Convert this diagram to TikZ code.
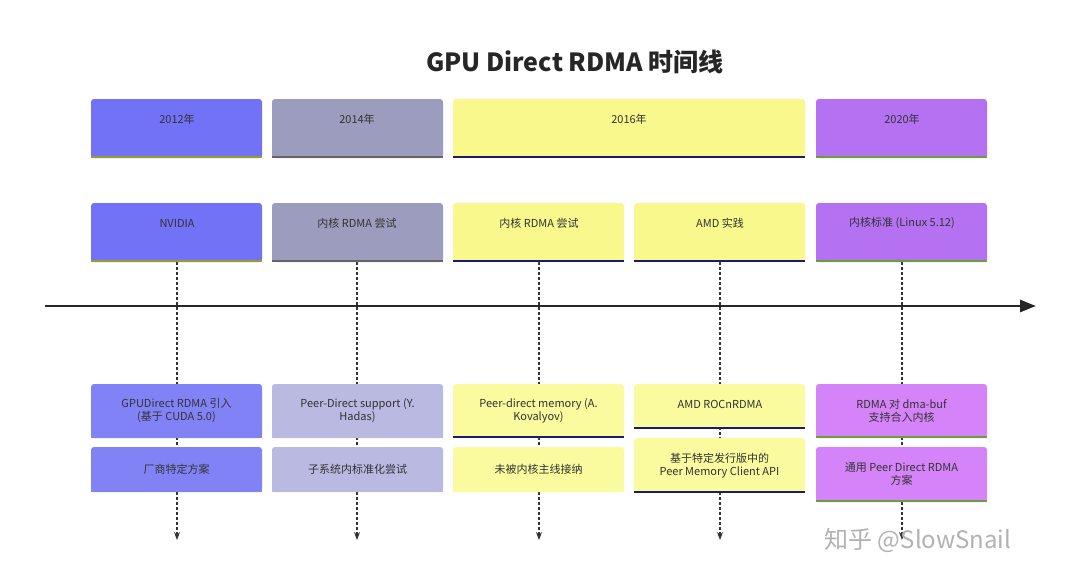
\documentclass[tikz,border=0pt]{standalone}
\usepackage{fontspec}
\setmainfont{Noto Sans CJK SC}
\usetikzlibrary{arrows.meta}
\definecolor{cA}{HTML}{7272F7}\definecolor{cAl}{HTML}{8282F7}\definecolor{bA}{HTML}{9A9A30}
\definecolor{cB}{HTML}{9C9CBE}\definecolor{cBl}{HTML}{B9B9E2}\definecolor{bB}{HTML}{666660}
\definecolor{cC}{HTML}{F8F88C}\definecolor{cCl}{HTML}{FAFA9E}\definecolor{bC}{HTML}{1A1A70}
\definecolor{cE}{HTML}{B472F2}\definecolor{cEl}{HTML}{D484F8}\definecolor{bE}{HTML}{6A9E3A}
\definecolor{tx}{HTML}{333333}
\tikzset{
 lbl/.style={text=tx,font=\fontsize{11}{13}\selectfont,align=center},
 tline/.style={densely dashed,line width=1.1pt,draw=tx,-{Stealth[length=8pt,width=6pt]}}
}
\newcommand{\bx}[7]{% name, x, y, w, h, fill, border
 \fill[#6,rounded corners=3pt] (#2,#3) rectangle ++(#4,#5);
 \draw[#7,line width=2.5pt] (#2,#3+#5-1.2) -- ++(#4,0);
 \coordinate (#1) at (#2+#4/2,#3+#5/2);}
\begin{document}
\begin{tikzpicture}[x=1pt,y=-1pt]
\useasboundingbox[fill=white] (0,0) rectangle (1080,584);
\node[font=\bfseries\fontsize{25}{28}\selectfont,text=black!85] (title) at (575,62) {GPU Direct RDMA 时间线};
% dashed connectors
\foreach \x/\n in {177/1,357/2,539/3,720/4,902/5}{
 \coordinate (s\n) at (\x,262); \coordinate (e\n) at (\x,540);
 \draw[tline] (s\n) -- (e\n);}
% axis
\coordinate (a0) at (45,306); \coordinate (a1) at (1036,306);
\draw[line width=2.5pt,draw=black!85,-{Triangle[length=16pt,width=12pt]}] (a0) -- (a1);
% year row
\bx{y1}{91}{99}{171}{59}{cA}{bA}
\bx{y2}{272}{99}{171}{59}{cB}{bB}
\bx{y3}{453}{99}{352}{59}{cC}{bC}
\bx{y5}{816}{99}{171}{59}{cE}{bE}
\node[lbl] (ty1) at (177,119) {2012年};
\node[lbl] (ty2) at (357,119) {2014年};
\node[lbl] (ty3) at (629,119) {2016年};
\node[lbl] (ty5) at (902,119) {2020年};
% org row
\bx{o1}{91}{203}{171}{59}{cA}{bA}
\bx{o2}{272}{203}{171}{59}{cB}{bB}
\bx{o3}{453}{203}{171}{59}{cC}{bC}
\bx{o4}{634}{203}{171}{59}{cC}{bC}
\bx{o5}{816}{203}{171}{59}{cE}{bE}
\node[lbl] (to1) at (177,223) {NVIDIA};
\node[lbl] (to2) at (357,223) {内核 RDMA 尝试};
\node[lbl] (to3) at (539,223) {内核 RDMA 尝试};
\node[lbl] (to4) at (720,223) {AMD 实践};
\node[lbl] (to5) at (902,223) {内核标准 (Linux 5.12)};
% detail rows
\bx{d1}{91}{384}{171}{54}{cAl}{cAl}
\bx{d2}{272}{384}{171}{54}{cBl}{cBl}
\bx{d3}{453}{384}{171}{54}{cCl}{bC}
\bx{d4}{634}{384}{171}{45}{cCl}{bC}
\bx{d5}{816}{384}{171}{54}{cEl}{bE}
\node[lbl] (td1) at (d1) {GPUDirect RDMA 引入\\(基于 CUDA 5.0)};
\node[lbl] (td2) at (d2) {Peer-Direct support (Y.\\Hadas)};
\node[lbl] (td3) at (d3) {Peer-direct memory (A.\\Kovalyov)};
\node[lbl] (td4) at (720,404) {AMD ROCnRDMA};
\node[lbl] (td5) at (d5) {RDMA 对 dma-buf\\支持合入内核};
\bx{f1}{91}{447}{171}{45}{cAl}{cAl}
\bx{f2}{272}{447}{171}{45}{cBl}{cBl}
\bx{f3}{453}{447}{171}{45}{cCl}{cCl}
\bx{f4}{634}{438}{171}{55}{cCl}{bC}
\bx{f5}{816}{447}{171}{55}{cEl}{bE}
\node[lbl] (tf1) at (f1) {厂商特定方案};
\node[lbl] (tf2) at (f2) {子系统内标准化尝试};
\node[lbl] (tf3) at (f3) {未被内核主线接纳};
\node[lbl] (tf4) at (f4) {基于特定发行版中的\\Peer Memory Client API};
\node[lbl] (tf5) at (f5) {通用 Peer Direct RDMA\\方案};
\node[text=black!30,font=\fontsize{24}{26}\selectfont] (wm) at (918,540) {知乎 @SlowSnail};
\end{tikzpicture}
\end{document}
